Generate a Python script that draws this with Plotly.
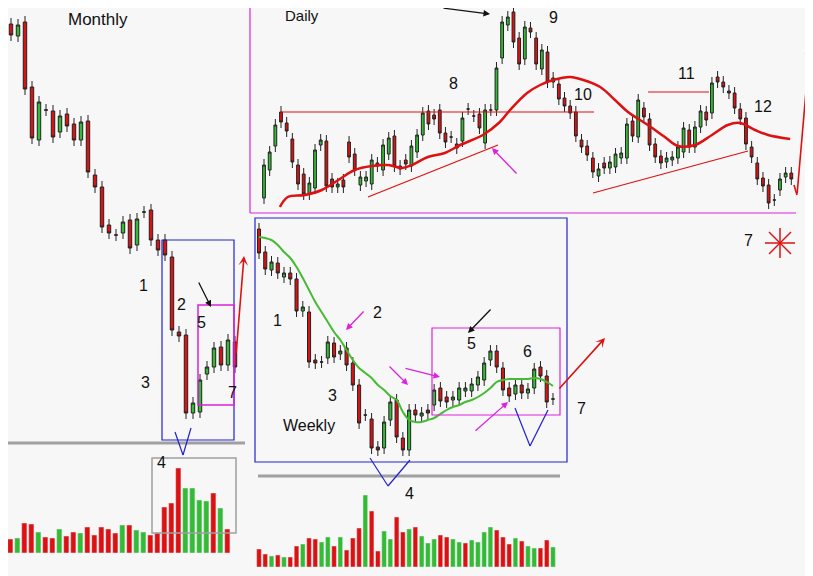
import plotly.graph_objects as go

OFF = 8
W, H = 813 - OFF, 576 - OFF
def X(p): return (p - OFF) / W
def Y(p): return 1 - (p - OFF) / H

# ---------- data ----------
monthly_open = [595,576,564,578,513,460,490,489,468,486,476,460,479,425,413,375,365,367,380,355,388,390,360,360,343,268,265,187,188,226,233,253,235,258]
monthly_close = [577,565,575,511,462,498,490,463,484,474,460,478,428,413,373,367,365,378,352,381,388,360,350,345,270,264,187,197,220,233,252,235,260,233]
monthly_vol = [20,14,15,30,29,21,16,15,24,17,21,20,26,18,26,24,20,28,28,23,21,18,20,46,50,85,65,65,53,52,60,45,24]
monthly_vol_up = [0,0,1,0,0,1,0,0,1,0,0,1,0,0,0,0,0,1,0,1,1,0,0,0,0,0,1,1,1,1,0,1,0]

daily_open = [402,430,454,488,477,461,435,426,406,412,455,459,421,413,420,458,446,415,419,416,437,430,446,464,434,440,434,448,465,489,485,490,
              467,463,456,459,491,484,486,457,490,490,542,575,588,562,541,572,562,531,548,518,516,502,494,488,460,454,442,424,437,432,433,
              442,442,479,463,492,481,456,444,438,440,442,448,470,453,473,488,487,523,518,509,507,491,482,453,437,422,415,400,410,423,427]
daily_close = [435,448,475,478,469,438,416,406,417,450,460,414,413,416,413,443,430,423,423,440,434,455,462,434,431,436,454,465,487,476,481,467,
               458,463,452,482,491,484,472,490,490,532,578,583,558,536,573,568,536,550,518,522,501,494,487,464,453,445,428,431,432,438,446,
               447,476,464,500,483,455,443,437,442,443,453,472,453,473,489,480,517,518,513,507,492,481,456,443,421,414,397,400,421,427,421]
daily_ma_idx = [2.8,4.2,7.2,10.2,13.1,16.0,19.0,21.9,24.3,26.1,28.9,31.9,34.6,38.6,41.6,43.4,46.4,48.7,51.0,54.0,56.3,59.3,61.9,64.2,67.7,70.7,73.0,76.0,79.0,81.8,84.0,86.6,88.9,92.8]
daily_ma = [393,403,405,410,420,430,434,435,432,435,443,447,455,465,478,490,507,515,520,523,520,513,500,488,475,463,454,455,465,475,477,470,465,461]

weekly_open = [371,348,330,337,323,327,321,289,288,240,238,242,257,246,252,237,215,185,181,153,152,180,200,162,150,190,184,190,195,212,203,200,200,209,209,215,220,240,249,232,212,206,215,207,212,233,224,201]
weekly_close = [347,331,338,327,327,321,289,293,238,237,238,258,243,249,235,215,177,185,152,150,178,198,163,150,190,185,187,187,210,199,198,203,212,212,216,223,237,249,233,210,204,215,207,211,231,224,198,201]
weekly_ma = [363,362,360,355,348,342,333,322,310,298,288,278,268,260,250,240,232,227,222,215,210,204,200,188,180,178,178,180,182,186,190,193,195,198,200,203,207,212,218,220,221,221,221,221,222,221,218,214]
weekly_vol = [18,13,11,12,10,10,21,23,29,28,25,30,21,30,17,29,39,72,56,16,36,28,50,35,38,40,31,24,28,32,30,28,25,24,27,25,35,40,37,30,23,29,26,21,19,19,27,20]
weekly_vol_up = [0,0,1,0,1,0,0,1,0,0,1,1,0,1,0,0,0,1,0,0,1,1,0,0,1,0,1,1,1,0,0,1,1,0,1,1,1,1,0,0,0,1,0,1,1,0,0,1]

GREEN, RED = "#33bb33", "#dd1111"
WICK = 6

def candles(opens, closes, xa, ya):
    highs = [max(o, c) + WICK for o, c in zip(opens, closes)]
    lows = [min(o, c) - WICK for o, c in zip(opens, closes)]
    return go.Candlestick(x=list(range(len(closes))), open=opens, high=highs, low=lows, close=closes,
        xaxis=xa, yaxis=ya, whiskerwidth=0,
        increasing=dict(line=dict(color="#222", width=1), fillcolor=GREEN),
        decreasing=dict(line=dict(color="#222", width=1), fillcolor=RED),
        showlegend=False, hoverinfo="skip")

fig = go.Figure()
fig.add_trace(go.Scatter(x=daily_ma_idx, y=daily_ma, xaxis="x2", yaxis="y2", mode="lines",
                         line=dict(color=RED, width=2.5, shape="spline"), showlegend=False, hoverinfo="skip"))
fig.add_trace(go.Scatter(x=list(range(len(weekly_ma))), y=weekly_ma, xaxis="x3", yaxis="y3", mode="lines",
                         line=dict(color="#44bb33", width=2, shape="spline"), showlegend=False, hoverinfo="skip"))
fig.add_trace(candles(monthly_open, monthly_close, "x", "y"))
fig.add_trace(candles(daily_open, daily_close, "x2", "y2"))
fig.add_trace(candles(weekly_open, weekly_close, "x3", "y3"))
fig.add_trace(go.Bar(x=list(range(len(monthly_vol))), y=monthly_vol,
                     marker_color=[GREEN if u else RED for u in monthly_vol_up],
                     xaxis="x4", yaxis="y4", showlegend=False, hoverinfo="skip"))
fig.add_trace(go.Bar(x=list(range(len(weekly_vol))), y=weekly_vol,
                     marker_color=[GREEN if u else RED for u in weekly_vol_up],
                     xaxis="x5", yaxis="y5", showlegend=False, hoverinfo="skip"))

ax = dict(visible=False, fixedrange=True)
def dom(a, b): return [X(a), X(b)]
def vdom(top, bot): return [Y(bot), Y(top)]
mx = lambda p: (p - 4) / 7
dx = lambda p: (p - 264) / 5.67
wx = lambda p: (p - 259) / 6.255
fig.update_layout(
    width=W, height=H, margin=dict(l=0, r=0, t=0, b=0),
    paper_bgcolor="#f7f7f7", plot_bgcolor="rgba(0,0,0,0)", bargap=0.25,
    xaxis=dict(ax, domain=dom(8, 238), range=[mx(8), mx(238)], rangeslider=dict(visible=False)),
    yaxis=dict(ax, domain=vdom(8, 445), range=[155, 592], anchor="x"),
    xaxis2=dict(ax, domain=dom(255, 800), range=[dx(255), dx(800)], rangeslider=dict(visible=False), anchor="y2"),
    yaxis2=dict(ax, domain=vdom(8, 213), range=[387, 592], anchor="x2"),
    xaxis3=dict(ax, domain=dom(256, 560), range=[wx(256), wx(560)], rangeslider=dict(visible=False), anchor="y3"),
    yaxis3=dict(ax, domain=vdom(220, 460), range=[140, 380], anchor="x3"),
    xaxis4=dict(ax, domain=dom(8, 238), range=[(8 - 3.3) / 7, (238 - 3.3) / 7], anchor="y4"),
    yaxis4=dict(ax, domain=vdom(463, 553), range=[0, 90], anchor="x4"),
    xaxis5=dict(ax, domain=dom(256, 560), range=[wx(256), wx(560)], anchor="y5"),
    yaxis5=dict(ax, domain=vdom(467, 567), range=[0, 100], anchor="x5"),
    font=dict(family="Arial, Liberation Sans", size=15, color="#111"),
)

def rect(x0, y0, x1, y1, color, w=1.2):
    fig.add_shape(type="rect", xref="paper", yref="paper", x0=X(x0), x1=X(x1), y0=Y(y1), y1=Y(y0),
                  line=dict(color=color, width=w))
def line(x0, y0, x1, y1, color, w=1.2):
    fig.add_shape(type="line", xref="paper", yref="paper", x0=X(x0), x1=X(x1), y0=Y(y0), y1=Y(y1),
                  line=dict(color=color, width=w))
def text(x, y, t, size=15):
    fig.add_annotation(xref="paper", yref="paper", x=X(x), y=Y(y), xanchor="center", yanchor="middle",
                       text=t, showarrow=False, font=dict(size=size))
def arrow(x0, y0, x1, y1, color, head=2, w=1.3):
    fig.add_annotation(xref="paper", yref="paper", axref="pixel", ayref="pixel", x=X(x1), y=Y(y1),
                       ax=x0 - x1, ay=y0 - y1, text="", showarrow=True, arrowhead=head, arrowwidth=w,
                       arrowcolor=color)

MAG, BLUE, GREY = "#dd22dd", "#2222cc", "#a0a0a0"
line(250, 8, 250, 213, MAG); line(250, 213, 796, 213, MAG)
rect(255, 218, 567, 462, BLUE)
rect(162, 240, 234, 440, BLUE)
rect(198, 305, 234, 405, MAG, 1.5)
rect(432, 328, 560, 415, MAG)
rect(152, 458, 236, 533, GREY, 1.5)
line(8, 443, 245, 443, GREY, 3)
line(258, 476, 560, 476, GREY, 3)
line(281, 112, 594, 112, RED); line(368, 197, 498, 145, RED)
line(648, 92, 709, 92, RED); line(593, 193, 748, 151, RED)
line(175, 432, 183, 455, BLUE); line(183, 455, 191, 428, BLUE)
line(370, 458, 388, 486, BLUE); line(388, 486, 410, 460, BLUE)
line(515, 408, 530, 446, BLUE); line(530, 446, 548, 410, BLUE)

arrow(442, 8, 490, 14, "#111"); arrow(492, 308, 468, 333, "#111"); arrow(198, 281, 211, 307, "#111")
arrow(518, 175, 492, 148, MAG); arrow(365, 310, 346, 330, MAG)
arrow(388, 365, 408, 385, MAG); arrow(404, 368, 440, 377, MAG); arrow(474, 432, 508, 402, MAG)
arrow(236, 355, 244, 256, RED, 3, 1.6); arrow(558, 390, 605, 338, RED, 3, 1.6)
line(794, 185, 797, 195, RED, 1.6)
arrow(797, 195, 810, 45, RED, 3, 1.6)
for a, b, c, d in [(765, 243, 795, 243), (780, 228, 780, 258), (769, 232, 791, 254), (769, 254, 791, 232)]:
    line(a, b, c, d, RED, 1.5)

text(98, 19, "Monthly", 17); text(302, 16, "Daily", 15); text(309, 425, "Weekly", 16)
for x, y, t in [(553, 17, "9"), (454, 83, "8"), (583, 95, "10"), (686, 73, "11"), (763, 107, "12"),
                (748, 241, "7"), (143, 285, "1"), (181, 304, "2"), (201, 322, "5"), (145, 382, "3"),
                (232, 392, "7"), (161, 462, "4"), (277, 320, "1"), (377, 312, "2"), (332, 395, "3"),
                (472, 343, "5"), (527, 351, "6"), (581, 408, "7"), (409, 493, "4")]:
    text(x, y, t, 16)

fig.write_html("out.html")
